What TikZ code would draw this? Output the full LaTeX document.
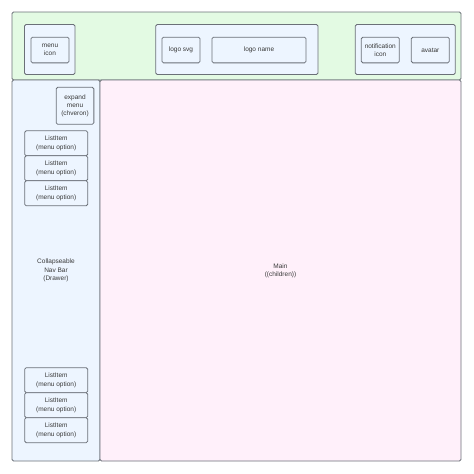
\documentclass[tikz,border=0pt]{standalone}
\usepackage{fontspec}
\setmainfont{Liberation Sans}
\usetikzlibrary{positioning}

\definecolor{headgreen}{HTML}{E3FAE3}
\definecolor{boxblue}{HTML}{EDF5FF}
\definecolor{mainpink}{HTML}{FFF0FA}
\definecolor{edgegray}{HTML}{6B7078}
\definecolor{textgray}{HTML}{3A3A3A}

\begin{document}
\begin{tikzpicture}[x=1pt,y=-1pt,
  panel/.style={draw=edgegray,line width=0.8pt,inner sep=0pt,rounded corners=1.5pt},
  item/.style={panel,fill=boxblue,align=center,text=textgray,
    font=\fontsize{6.5}{8.3}\selectfont},
  groupbox/.style={panel,fill=boxblue}]
\useasboundingbox (0,0) rectangle (474,474);

% header bar
\node[panel,fill=headgreen,minimum width=449pt,minimum height=68pt] (header) at (236.5,46) {};

% side drawer and main area
\node[item,minimum width=88pt,minimum height=381pt] (drawer) at (56,270.5) {Collapseable\\Nav Bar\\(Drawer)};
\node[item,fill=mainpink,minimum width=361pt,minimum height=381pt] (main) at (280.5,270.5) {Main\\((children))};

% header groups
\node[groupbox,minimum width=50.5pt,minimum height=50pt] (menugrp) at (49.75,49.5) {};
\node[groupbox,minimum width=162.3pt,minimum height=50pt] (logogrp) at (236.85,49.5) {};
\node[groupbox,minimum width=100pt,minimum height=50pt] (usergrp) at (405.3,49.5) {};

\node[item,minimum width=38pt,minimum height=25.7pt] (menuicon) at (50,50) {menu\\icon};
\node[item,minimum width=38pt,minimum height=25.7pt] (logosvg) at (181,50) {logo svg};
\node[item,minimum width=94pt,minimum height=25.7pt] (logoname) at (259,50) {logo name};
\node[item,minimum width=38pt,minimum height=25.7pt] (notify) at (380.3,50) {notification\\icon};
\node[item,minimum width=38pt,minimum height=25.7pt] (avatar) at (430.3,50) {avatar};

% drawer content
\node[item,minimum width=37.7pt,minimum height=37pt] (expand) at (75,105.8) {expand\\menu\\(chveron)};

\foreach \y [count=\i] in {143.3,168.3,193.3,380.2,405.2,430.2}
  \node[item,minimum width=63pt,minimum height=25pt] (listitem\i) at (56.2,\y) {ListItem\\(menu option)};

\end{tikzpicture}
\end{document}
